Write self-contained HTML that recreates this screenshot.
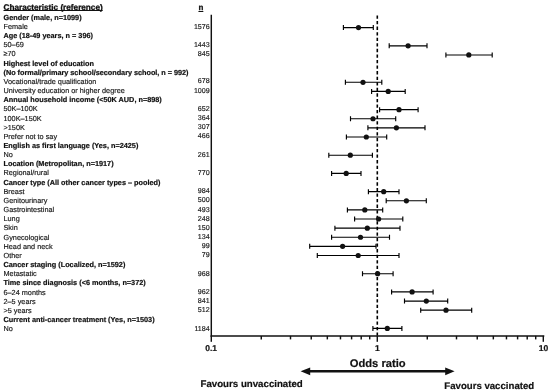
<!DOCTYPE html>
<html><head><meta charset="utf-8"><title>Forest plot</title>
<style>
html,body{margin:0;padding:0;background:#fff;}
body{width:550px;height:392px;position:relative;overflow:hidden;font-family:"Liberation Sans",Arial,Helvetica,sans-serif;color:#111;text-rendering:geometricPrecision;}
.r{position:absolute;left:3.5px;white-space:nowrap;font-size:7.3px;line-height:9px;height:9px;-webkit-text-stroke:0.15px #222;}
.b{font-weight:bold;-webkit-text-stroke:0.2px #111;}
.h{font-weight:bold;font-size:8.2px;text-decoration:underline;text-decoration-thickness:1.25px;text-underline-offset:0.3px;text-decoration-skip-ink:none;-webkit-text-stroke:0.32px #111;}
.n{position:absolute;width:40px;left:169.7px;text-align:right;font-size:7.1px;line-height:9px;height:9px;-webkit-text-stroke:0.15px #222;}
.nh{font-weight:bold;font-size:8px;text-decoration:underline;text-align:center;width:10px;left:195.9px;text-decoration-thickness:1.1px;text-underline-offset:0.6px;text-decoration-skip-ink:none;-webkit-text-stroke:0.25px #111;}
svg{position:absolute;left:0;top:0;}
.ax{font-weight:bold;font-size:8.4px;-webkit-text-stroke:0.2px #111;}
</style></head><body>

<div class="r h" style="top:3.10px">Characteristic (reference)</div>
<div class="n nh" style="top:3.10px">n</div>
<div class="r b" style="top:12.85px">Gender (male, n=1099)</div>
<div class="r" style="top:22.01px">Female</div>
<div class="n" style="top:22.51px">1576</div>
<div class="r b" style="top:31.16px">Age (18-49 years, n = 396)</div>
<div class="r" style="top:40.32px">50–69</div>
<div class="n" style="top:40.82px">1443</div>
<div class="r" style="top:49.47px">≥70</div>
<div class="n" style="top:49.97px">845</div>
<div class="r b" style="top:58.63px">Highest level of education</div>
<div class="r b" style="top:67.78px;letter-spacing:-0.025px">(No formal/primary school/secondary school, n = 992)</div>
<div class="r" style="top:76.94px">Vocational/trade qualification</div>
<div class="n" style="top:77.44px">678</div>
<div class="r" style="top:86.09px">University education or higher degree</div>
<div class="n" style="top:86.59px">1009</div>
<div class="r b" style="top:95.25px">Annual household income (&lt;50K AUD, n=898)</div>
<div class="r" style="top:104.41px">50K–100K</div>
<div class="n" style="top:104.91px">652</div>
<div class="r" style="top:113.56px">100K–150K</div>
<div class="n" style="top:114.06px">364</div>
<div class="r" style="top:122.71px">&gt;150K</div>
<div class="n" style="top:123.21px">307</div>
<div class="r" style="top:131.87px">Prefer not to say</div>
<div class="n" style="top:132.37px">466</div>
<div class="r b" style="top:141.02px">English as first language (Yes, n=2425)</div>
<div class="r" style="top:150.18px">No</div>
<div class="n" style="top:150.68px">261</div>
<div class="r b" style="top:159.33px">Location (Metropolitan, n=1917)</div>
<div class="r" style="top:168.49px">Regional/rural</div>
<div class="n" style="top:168.99px">770</div>
<div class="r b" style="top:177.64px">Cancer type (All other cancer types – pooled)</div>
<div class="r" style="top:186.80px">Breast</div>
<div class="n" style="top:187.30px">984</div>
<div class="r" style="top:195.95px">Genitourinary</div>
<div class="n" style="top:196.45px">500</div>
<div class="r" style="top:205.11px">Gastrointestinal</div>
<div class="n" style="top:205.61px">493</div>
<div class="r" style="top:214.26px">Lung</div>
<div class="n" style="top:214.76px">248</div>
<div class="r" style="top:223.42px">Skin</div>
<div class="n" style="top:223.92px">150</div>
<div class="r" style="top:232.57px">Gynecological</div>
<div class="n" style="top:233.07px">134</div>
<div class="r" style="top:241.73px">Head and neck</div>
<div class="n" style="top:242.23px">99</div>
<div class="r" style="top:250.88px">Other</div>
<div class="n" style="top:251.38px">79</div>
<div class="r b" style="top:260.04px">Cancer staging (Localized, n=1592)</div>
<div class="r" style="top:269.19px">Metastatic</div>
<div class="n" style="top:269.69px">968</div>
<div class="r b" style="top:278.35px">Time since diagnosis (&lt;6 months, n=372)</div>
<div class="r" style="top:287.50px">6–24 months</div>
<div class="n" style="top:288.00px">962</div>
<div class="r" style="top:296.66px">2–5 years</div>
<div class="n" style="top:297.16px">841</div>
<div class="r" style="top:305.81px">&gt;5 years</div>
<div class="n" style="top:306.31px">512</div>
<div class="r b" style="top:314.97px">Current anti-cancer treatment (Yes, n=1503)</div>
<div class="r" style="top:324.12px">No</div>
<div class="n" style="top:324.62px">1184</div>
<svg width="550" height="392" viewBox="0 0 550 392">
<g stroke="#111" stroke-width="1.45" fill="none" stroke-linecap="butt">
<path d="M211.3 14.8V336.5"/>
<path d="M210.6 336H544.3"/>
<path d="M211.30 335.9V341.80"/>
<path d="M261.27 335.9V339.40"/>
<path d="M290.50 335.9V339.40"/>
<path d="M311.24 335.9V339.40"/>
<path d="M327.33 335.9V339.40"/>
<path d="M340.47 335.9V339.40"/>
<path d="M351.59 335.9V339.40"/>
<path d="M361.21 335.9V339.40"/>
<path d="M369.70 335.9V339.40"/>
<path d="M377.30 335.9V341.80"/>
<path d="M427.27 335.9V339.40"/>
<path d="M456.50 335.9V339.40"/>
<path d="M477.24 335.9V339.40"/>
<path d="M493.33 335.9V339.40"/>
<path d="M506.47 335.9V339.40"/>
<path d="M517.59 335.9V339.40"/>
<path d="M527.21 335.9V339.40"/>
<path d="M535.70 335.9V339.40"/>
<path d="M543.30 335.9V341.8"/>
</g>
<path d="M377.3 15.45V335.5" stroke="#000" stroke-width="1.6" stroke-dasharray="3.3 2.263" fill="none"/>
<g stroke="#000" stroke-width="1.15" fill="none">
<path d="M343.4 27.60H373.3M343.4 25.10V30.10M373.3 25.10V30.10"/>
<path d="M389.2 45.83H427M389.2 43.33V48.33M427 43.33V48.33"/>
<path d="M445.9 54.95H492.2M445.9 52.45V57.45M492.2 52.45V57.45"/>
<path d="M345.4 82.29H381.8M345.4 79.79V84.79M381.8 79.79V84.79"/>
<path d="M371.6 91.41H405.2M371.6 88.91V93.91M405.2 88.91V93.91"/>
<path d="M379.6 109.64H418.1M379.6 107.14V112.14M418.1 107.14V112.14"/>
<path d="M350.5 118.75H395.7M350.5 116.25V121.25M395.7 116.25V121.25"/>
<path d="M367.9 127.87H425M367.9 125.37V130.37M425 125.37V130.37"/>
<path d="M346.4 136.98H386.7M346.4 134.48V139.48M386.7 134.48V139.48"/>
<path d="M328.8 155.21H372.4M328.8 152.71V157.71M372.4 152.71V157.71"/>
<path d="M331.6 173.44H361M331.6 170.94V175.94M361 170.94V175.94"/>
<path d="M368.4 191.67H399M368.4 189.17V194.17M399 189.17V194.17"/>
<path d="M386.2 200.78H426.3M386.2 198.28V203.28M426.3 198.28V203.28"/>
<path d="M347.4 209.90H382.7M347.4 207.40V212.40M382.7 207.40V212.40"/>
<path d="M354.6 219.02H402.8M354.6 216.52V221.52M402.8 216.52V221.52"/>
<path d="M334.9 228.13H400M334.9 225.63V230.63M400 225.63V230.63"/>
<path d="M331.6 237.25H389.5M331.6 234.75V239.75M389.5 234.75V239.75"/>
<path d="M309.7 246.36H376M309.7 243.86V248.86M376 243.86V248.86"/>
<path d="M317.3 255.48H399M317.3 252.98V257.98M399 252.98V257.98"/>
<path d="M362.5 273.70H393.1M362.5 271.20V276.20M393.1 271.20V276.20"/>
<path d="M391.6 291.94H433.1M391.6 289.44V294.44M433.1 289.44V294.44"/>
<path d="M404.5 301.05H447.7M404.5 298.55V303.55M447.7 298.55V303.55"/>
<path d="M420.7 310.17H471.7M420.7 307.67V312.67M471.7 307.67V312.67"/>
<path d="M372.9 328.40H401.9M372.9 325.90V330.90M401.9 325.90V330.90"/>
</g><g fill="#111">
<circle cx="358.5" cy="27.60" r="2.6"/>
<circle cx="408.1" cy="45.83" r="2.6"/>
<circle cx="468.8" cy="54.95" r="2.6"/>
<circle cx="363" cy="82.29" r="2.6"/>
<circle cx="388.2" cy="91.41" r="2.6"/>
<circle cx="399" cy="109.64" r="2.6"/>
<circle cx="373" cy="118.75" r="2.6"/>
<circle cx="396.4" cy="127.87" r="2.6"/>
<circle cx="366.3" cy="136.98" r="2.6"/>
<circle cx="350.3" cy="155.21" r="2.6"/>
<circle cx="346.2" cy="173.44" r="2.6"/>
<circle cx="383.7" cy="191.67" r="2.6"/>
<circle cx="406.4" cy="200.78" r="2.6"/>
<circle cx="364.8" cy="209.90" r="2.6"/>
<circle cx="378.6" cy="219.02" r="2.6"/>
<circle cx="367.3" cy="228.13" r="2.6"/>
<circle cx="360.5" cy="237.25" r="2.6"/>
<circle cx="342.6" cy="246.36" r="2.6"/>
<circle cx="358.2" cy="255.48" r="2.6"/>
<circle cx="377.6" cy="273.70" r="2.6"/>
<circle cx="412.1" cy="291.94" r="2.6"/>
<circle cx="426.3" cy="301.05" r="2.6"/>
<circle cx="446" cy="310.17" r="2.6"/>
<circle cx="387.3" cy="328.40" r="2.6"/>
</g>
<path d="M309 371.3H446" stroke="#111" stroke-width="2.6" fill="none"/>
<path d="M300.6 371.3L310.2 367.4V375.2Z M454.6 371.3L445.2 367.4V375.2Z" fill="#111"/>
</svg>
<div class="r ax" style="left:211.2px;top:344.1px;font-size:8.5px;transform:translateX(-50%)">0.1</div>
<div class="r ax" style="left:377.3px;top:344.1px;font-size:8.5px;transform:translateX(-50%)">1</div>
<div class="r ax" style="left:543.6px;top:344.1px;font-size:8.5px;transform:translateX(-50%)">10</div>
<div class="r ax" style="left:377.7px;top:358px;font-size:11.2px;line-height:12px;height:12px;transform:translateX(-50%)">Odds ratio</div>
<div class="r ax" style="left:200.5px;top:379.2px;font-size:9.7px;line-height:11px;height:11px;">Favours unvaccinated</div>
<div class="r ax" style="left:444.3px;top:380.5px;font-size:9.65px;line-height:11px;height:11px;">Favours vaccinated</div>
</body></html>
